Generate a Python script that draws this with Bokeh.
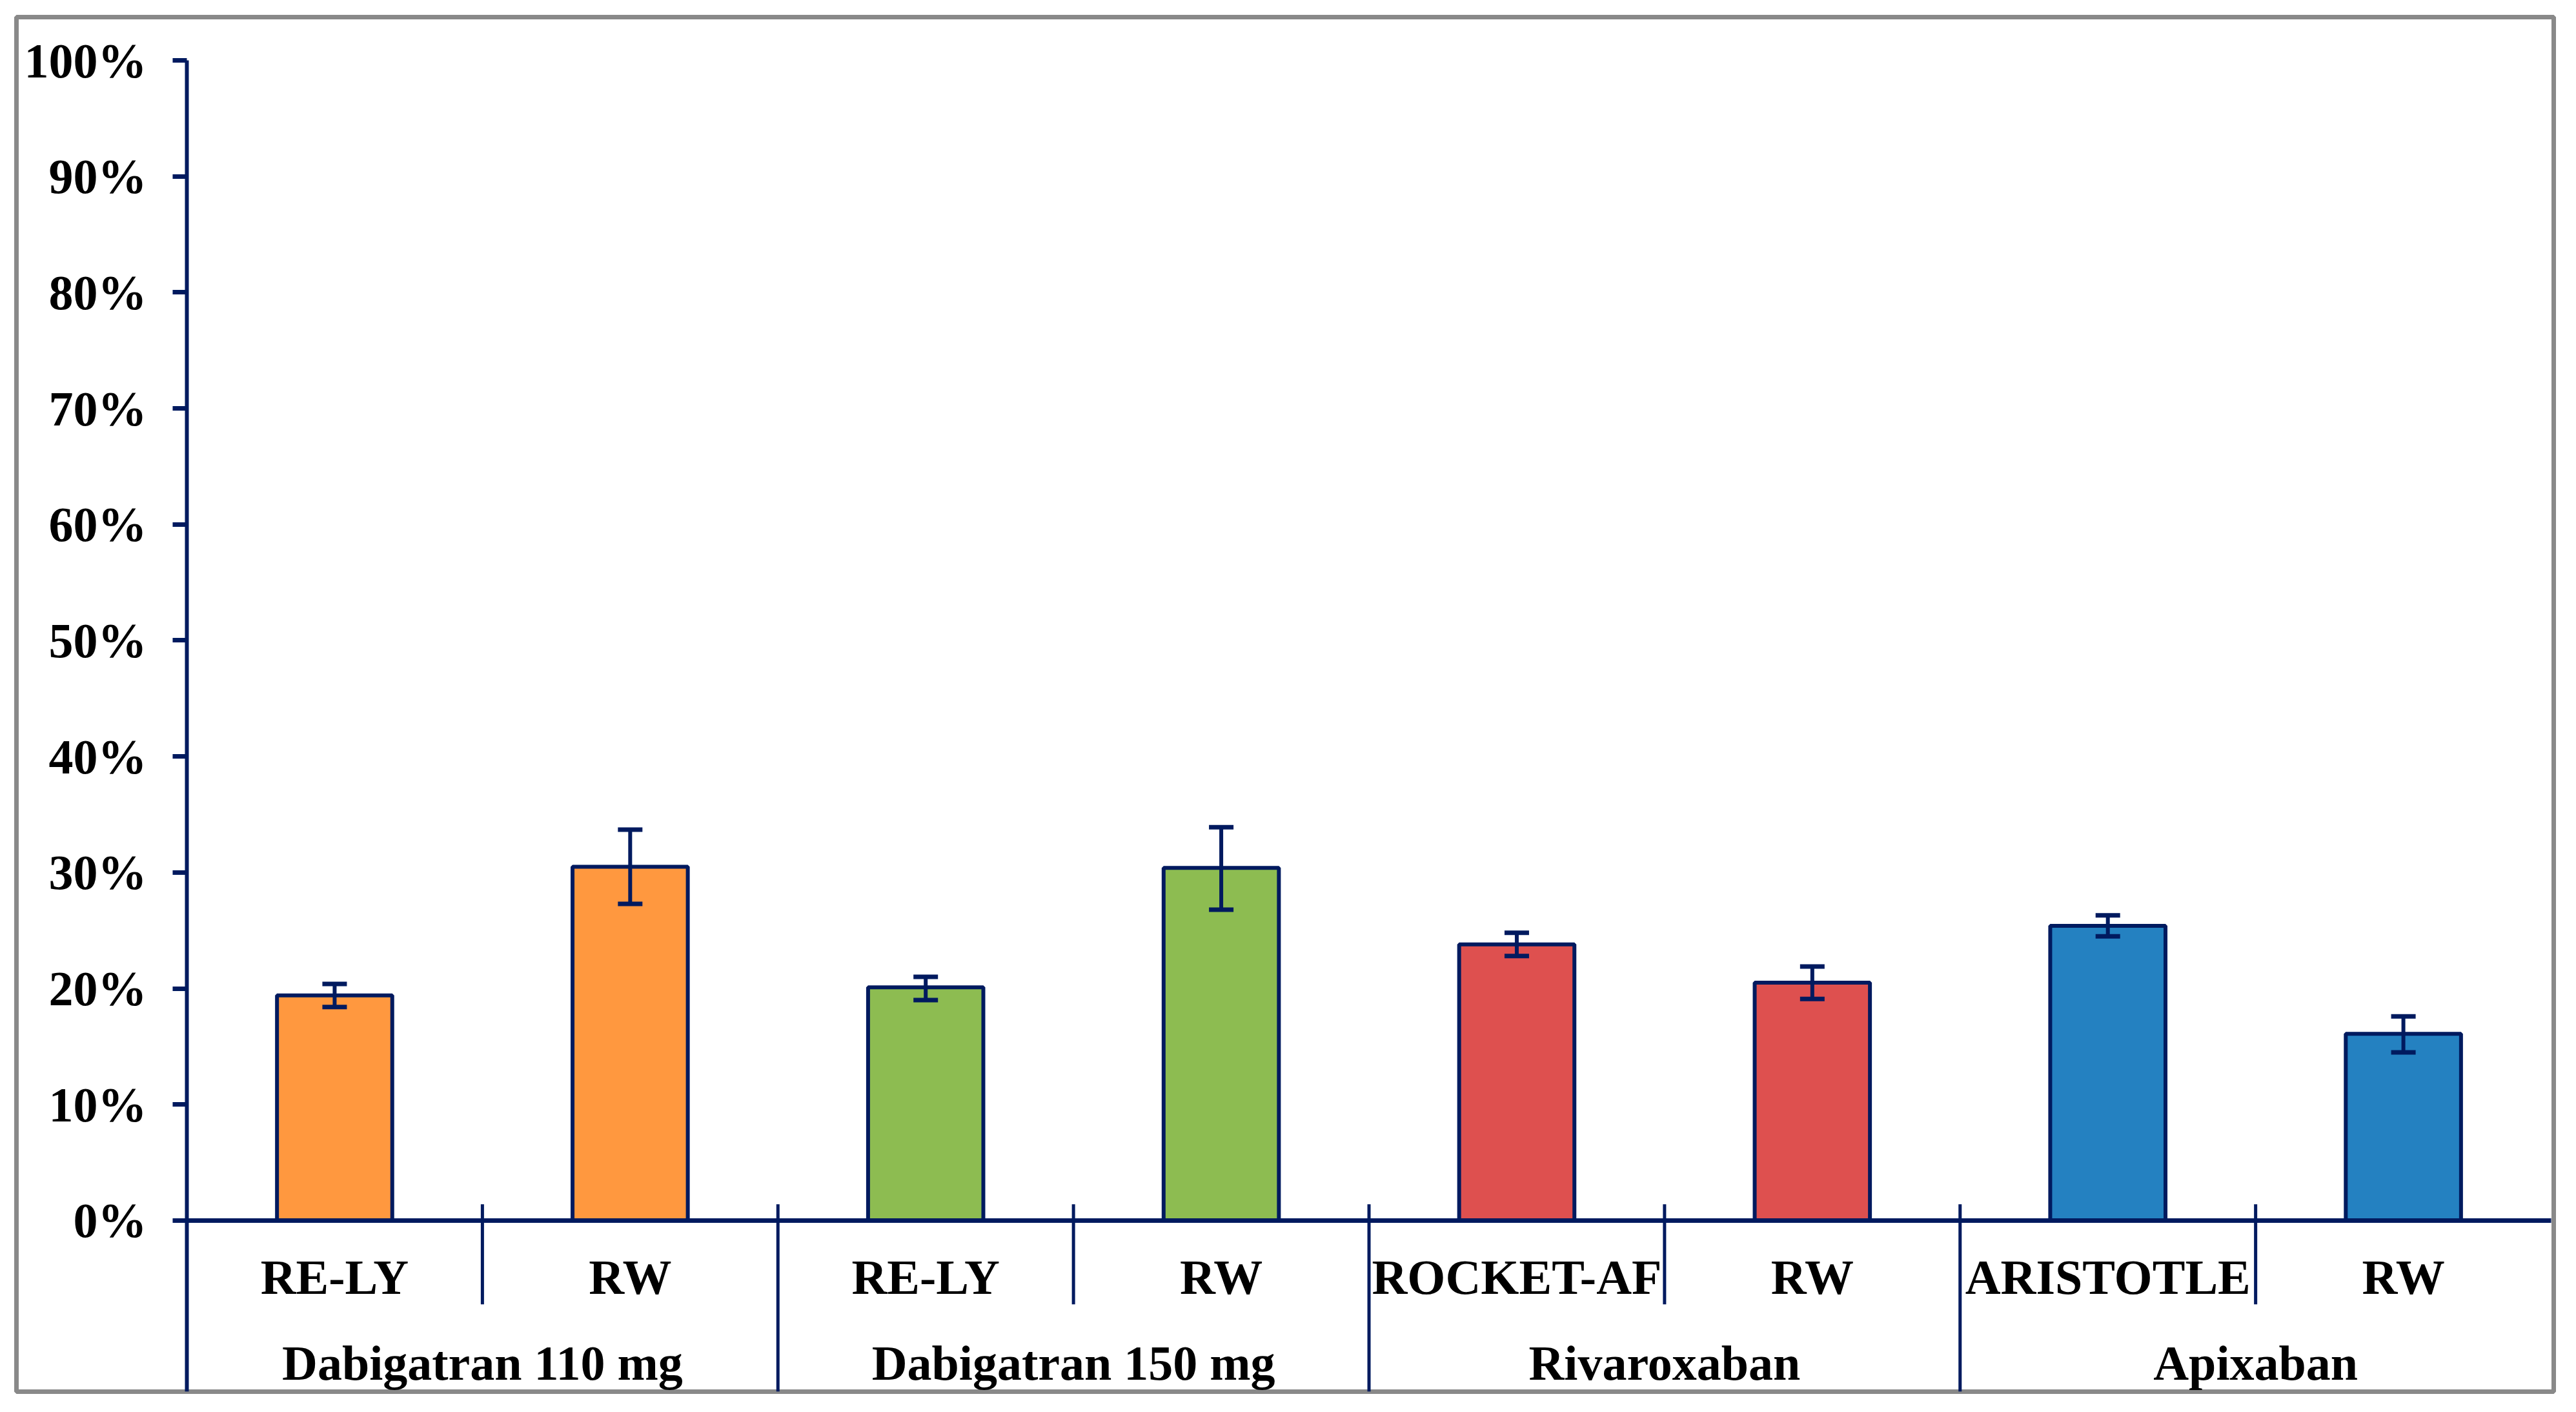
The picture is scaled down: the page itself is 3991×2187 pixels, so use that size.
from bokeh.plotting import figure
from bokeh.models import Range1d, LinearAxis, FixedTicker, CustomJSTickFormatter, ColumnDataSource
from bokeh.core.properties import value
from bokeh.embed import file_html
from bokeh.resources import INLINE

# ---- data ----
groups = ["Dabigatran 110 mg", "Dabigatran 150 mg", "Rivaroxaban", "Apixaban"]
subcats = ["RE-LY", "RW", "RE-LY", "RW", "ROCKET-AF", "RW", "ARISTOTLE", "RW"]
group_of = [0, 0, 1, 1, 2, 2, 3, 3]
rate = [19.4, 30.5, 20.1, 30.4, 23.8, 20.5, 25.4, 16.1]
upper = [20.4, 33.7, 21.0, 33.9, 24.8, 21.9, 26.3, 17.6]
lower = [18.4, 27.3, 19.0, 26.8, 22.8, 19.1, 24.5, 14.5]
group_colors = ["#FF983F", "#8DBC51", "#DE504F", "#2481C1"]
y_ticks = [0, 10, 20, 30, 40, 50, 60, 70, 80, 90, 100]

NAVY = "#001A5F"
FONT = "Liberation Serif"
FS = "76px"

n = len(subcats)
Y0, Y1 = -14.75, 103.73

p = figure(width=3975, height=2171, output_backend="svg", toolbar_location=None,
           x_range=Range1d(-0.5766, n + 0.0087), y_range=Range1d(Y0, Y1),
           x_axis_type=None, y_axis_type=None,
           min_border_left=25, min_border_top=26, min_border_right=19, min_border_bottom=16)
p.outline_line_color = "#898989"
p.outline_line_width = 7
p.background_fill_color = "white"
p.border_fill_color = "white"

xs = [i + 0.5 for i in range(n)]
colors = [group_colors[g] for g in group_of]
src = ColumnDataSource(dict(x=xs, top=rate, up=upper, lo=lower, color=colors, label=subcats))

# bars
p.vbar(x="x", top="top", bottom=0, width=0.39, source=src,
       fill_color="color", line_color=NAVY, line_width=6)

# x axis baseline
p.segment(x0=[0], y0=[0], x1=[n], y1=[0], line_color=NAVY, line_width=7)

# category separators
bounds_short = [i for i in range(1, n) if group_of[i] == group_of[i - 1]]
bounds_long = [i for i in range(1, n) if group_of[i] != group_of[i - 1]]
p.segment(x0=bounds_short, x1=bounds_short, y0=[1.4] * len(bounds_short),
          y1=[-7.23] * len(bounds_short), line_color=NAVY, line_width=5)
p.segment(x0=bounds_long, x1=bounds_long, y0=[1.4] * len(bounds_long),
          y1=[Y0] * len(bounds_long), line_color=NAVY, line_width=5)

# error bars
p.segment(x0="x", x1="x", y0="lo", y1="up", source=src, line_color=NAVY, line_width=6)
p.scatter(x="x", y="up", source=src, marker="dash", size=38, line_color=NAVY, line_width=7)
p.scatter(x="x", y="lo", source=src, marker="dash", size=38, line_color=NAVY, line_width=7)

# sub-category labels
p.text(x="x", y=-4.87, text="label", source=src, text_font=value(FONT), text_font_style="bold",
       text_font_size=FS, text_align="center", text_baseline="alphabetic", text_color="black")

# group labels
gx = []
for g in range(len(groups)):
    idx = [i for i in range(n) if group_of[i] == g]
    gx.append((min(idx) + max(idx) + 1) / 2)
p.text(x=gx, y=[-12.3] * len(groups), text=groups, text_font=value(FONT), text_font_style="bold",
       text_font_size=FS, text_align="center", text_baseline="alphabetic", text_color="black")

# y axis
yax = LinearAxis(fixed_location=0, bounds=(Y0, 100),
                 ticker=FixedTicker(ticks=y_ticks, minor_ticks=[]),
                 formatter=CustomJSTickFormatter(code="return tick.toFixed(0) + '%';"))
yax.axis_line_color = NAVY
yax.axis_line_width = 6
yax.major_tick_line_color = NAVY
yax.major_tick_line_width = 7
yax.major_tick_out = 22
yax.major_tick_in = 0
yax.minor_tick_line_color = None
yax.major_label_standoff = 40
yax.major_label_text_font = FONT
yax.major_label_text_font_style = "bold"
yax.major_label_text_font_size = FS
yax.major_label_text_color = "black"
p.add_layout(yax, "left")

open("out.html", "w").write(file_html(p, INLINE))
